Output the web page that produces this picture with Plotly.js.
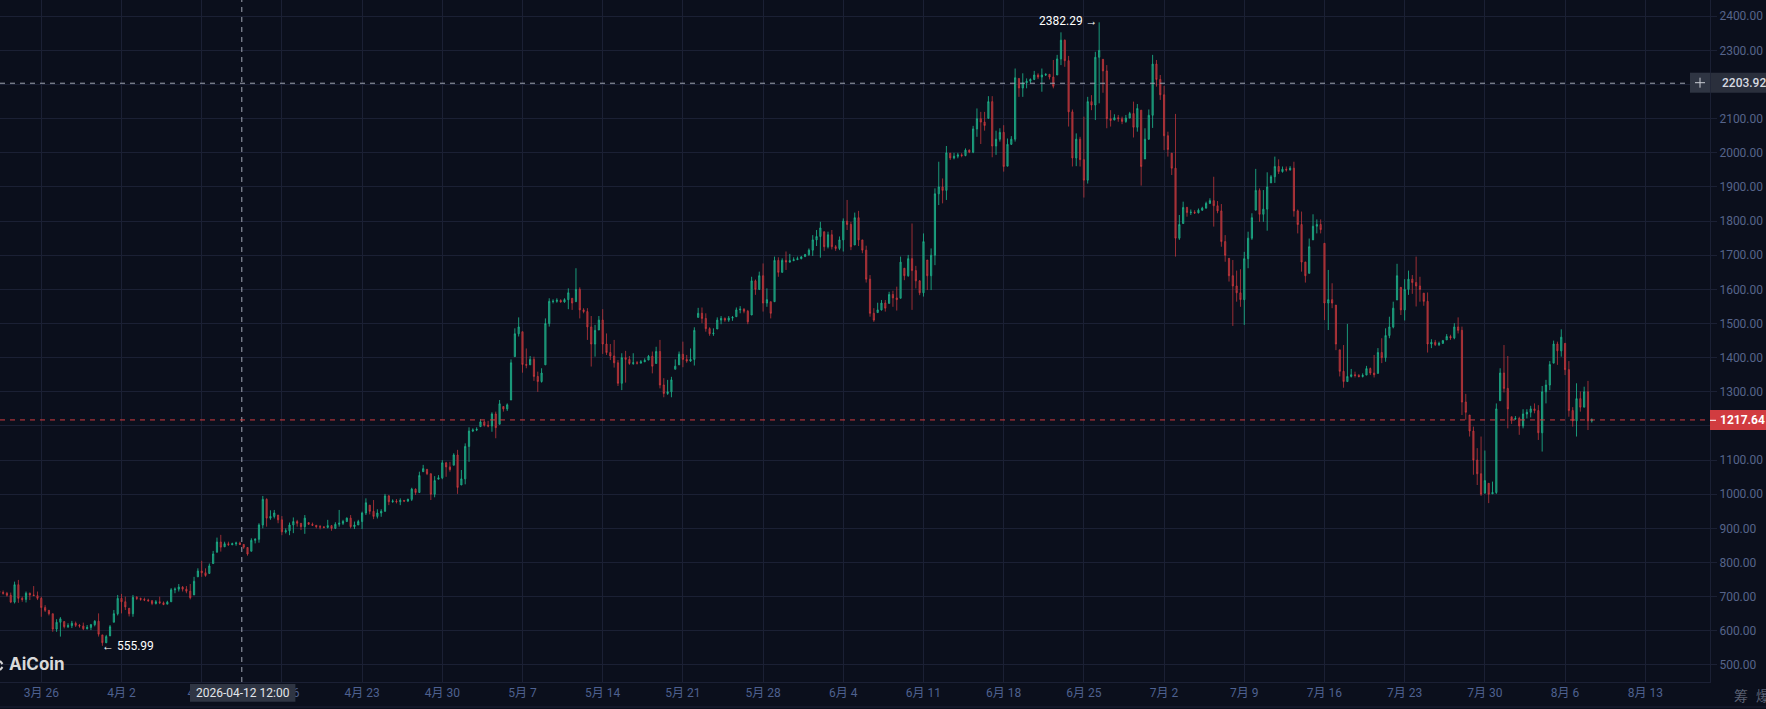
<!DOCTYPE html>
<html><head><meta charset="utf-8">
<script src="https://cdn.plot.ly/plotly-3.0.1.min.js"></script>
<style>html,body{margin:0;padding:0;background:#0b0f1c;overflow:hidden}#c{width:1766px;height:709px}</style>
</head><body><div id="c"></div>
<script>
const firstCandle = '2026-03-22T08:00:00Z';
const candleHours = 8;
const firstOpen = 716;
const closes = [712,710,704,684,735,695,692,710,705,703,
695,668,660,650,605,625,635,612,615,622,
616,614,606,610,618,628,590,565,583,612,
650,695,685,670,650,698,695,692,690,688,
680,685,682,677,684,720,722,728,722,716,
697,745,775,770,762,790,825,860,845,855,
852,855,857,853,845,825,865,868,910,985,
930,935,945,925,890,893,910,920,915,905,
930,912,909,905,904,903,908,900,912,915,
920,930,905,910,920,945,975,950,935,945,
950,995,978,980,978,982,980,985,1015,1005,
1055,1075,1060,1000,1040,1048,1092,1080,1072,1115,
1020,1045,1140,1185,1188,1190,1212,1202,1200,1235,
1195,1265,1250,1262,1385,1470,1490,1380,1378,1395,
1345,1330,1355,1500,1565,1565,1568,1563,1570,1590,
1560,1600,1540,1535,1490,1440,1480,1510,1440,1415,
1405,1385,1325,1400,1395,1383,1385,1384,1388,1392,
1404,1375,1418,1320,1295,1300,1335,1375,1410,1395,
1390,1395,1480,1530,1515,1485,1470,1472,1510,1515,
1510,1516,1518,1540,1542,1536,1505,1625,1600,1640,
1560,1570,1530,1685,1650,1685,1680,1684,1687,1690,
1695,1702,1715,1745,1755,1780,1725,1760,1725,1720,
1745,1800,1790,1725,1810,1745,1715,1630,1530,1510,
1540,1560,1545,1585,1575,1570,1680,1640,1690,1655,
1625,1590,1740,1640,1700,1880,1900,1890,2000,1985,
1990,1994,1992,2008,2002,2070,2100,2090,2080,2150,
2020,2040,2060,1960,2025,2040,2220,2190,2205,2210,
2215,2228,2222,2228,2230,2222,2195,2275,2330,2270,
2120,1985,2040,1980,1920,2150,2140,2280,2300,2240,
2100,2095,2103,2100,2092,2102,2115,2075,2130,1960,
2040,2110,2260,2215,2170,2050,2010,1955,1750,1790,
1840,1825,1826,1824,1832,1838,1852,1860,1845,1830,
1740,1700,1640,1610,1590,1570,1690,1750,1810,1890,
1820,1835,1900,1930,1960,1945,1952,1950,1955,1830,
1790,1680,1640,1725,1785,1790,1775,1560,1570,1560,
1440,1360,1330,1345,1350,1348,1345,1348,1368,1355,
1350,1415,1400,1465,1490,1545,1640,1540,1600,1630,
1620,1610,1600,1565,1440,1445,1438,1442,1450,1462,
1458,1490,1480,1270,1240,1185,1100,1060,1000,1040,
1000,1005,1250,1355,1310,1250,1220,1222,1200,1235,
1240,1250,1245,1180,1300,1320,1380,1440,1420,1460,
1365,1245,1215,1280,1255,1300,1215,1217.64];
const highs = [720,718,714,712,744,749,700,715,712,731,
715,700,675,660,650,634,640,627,622,629,
627,620,624,617,620,631,651,588,588,617,
661,705,708,700,666,705,702,697,697,694,
690,690,700,686,688,725,727,737,731,731,
737,758,783,805,783,797,834,873,881,861,
861,858,861,861,853,844,871,871,915,995,
988,953,954,939,936,900,917,932,925,915,
939,917,917,910,910,907,925,910,918,954,
925,932,939,920,925,949,988,968,983,956,
956,1001,998,985,986,988,982,987,1019,1017,
1066,1086,1073,1061,1053,1056,1100,1095,1095,1120,
1130,1071,1149,1196,1193,1196,1220,1216,1215,1240,
1242,1276,1257,1266,1395,1486,1518,1476,1427,1405,
1403,1359,1369,1515,1574,1571,1574,1571,1574,1603,
1574,1662,1606,1545,1545,1522,1496,1522,1542,1471,
1440,1452,1393,1413,1420,1405,1413,1390,1393,1398,
1408,1418,1432,1452,1340,1335,1344,1395,1418,1447,
1408,1427,1489,1546,1547,1530,1489,1486,1518,1522,
1518,1522,1522,1547,1551,1545,1540,1637,1629,1652,
1676,1603,1564,1696,1694,1691,1711,1704,1694,1696,
1698,1704,1720,1759,1774,1798,1769,1769,1774,1730,
1755,1808,1862,1798,1825,1830,1745,1728,1642,1545,
1561,1569,1569,1593,1596,1608,1696,1662,1701,1793,
1669,1627,1764,1686,1720,1896,1974,1925,2020,1999,
2000,2000,1999,2013,2010,2079,2130,2120,2120,2166,
2166,2065,2072,2081,2042,2049,2247,2218,2233,2218,
2218,2240,2233,2247,2233,2231,2272,2287,2353,2332,
2284,2127,2057,2047,2106,2164,2169,2296,2382.29,2274,
2257,2125,2113,2111,2106,2111,2120,2150,2143,2125,
2072,2127,2287,2272,2228,2196,2062,1999,2114,1818,
1857,1842,1834,1832,1837,1842,1857,1867,1930,1859,
1850,1759,1691,1686,1655,1659,1710,1769,1823,1953,
1896,1891,1943,1935,1989,1981,1960,1960,1961,1974,
1834,1828,1681,1749,1820,1805,1805,1735,1657,1618,
1554,1423,1437,1499,1367,1359,1352,1354,1376,1371,
1408,1428,1457,1486,1520,1564,1675,1606,1630,1655,
1642,1696,1637,1589,1591,1454,1452,1447,1452,1469,
1467,1501,1518,1491,1294,1232,1198,1135,1169,1128,
1032,1037,1266,1369,1437,1405,1227,1229,1227,1249,
1249,1259,1266,1261,1317,1335,1390,1450,1447,1483,
1442,1390,1255,1325,1301,1315,1332,1222];
const lows = [706,706,700,681,680,682,685,683,690,703,
690,641,655,645,597,597,583,607,608,608,
611,609,602,604,602,613,583,555.99,564,585,
625,645,651,661,642,641,690,688,687,685,
675,677,678,675,678,685,710,715,715,710,
692,705,758,758,758,768,797,830,832,846,
849,851,849,851,840,820,833,856,858,900,
905,925,929,915,880,885,880,886,905,895,
884,910,907,900,897,900,900,893,898,905,
910,920,900,898,910,898,939,941,927,929,
934,949,968,975,973,968,977,977,980,998,
1005,1066,1056,983,991,1044,1044,1051,1066,1085,
1001,1027,1029,1095,1182,1185,1198,1198,1196,1183,
1164,1205,1242,1244,1276,1403,1462,1356,1369,1379,
1332,1300,1327,1379,1491,1559,1561,1561,1561,1542,
1540,1564,1515,1530,1452,1374,1403,1481,1411,1408,
1393,1371,1317,1305,1327,1379,1379,1380,1383,1387,
1393,1354,1383,1310,1284,1291,1284,1366,1379,1372,
1385,1388,1377,1518,1501,1476,1464,1464,1484,1498,
1505,1505,1508,1520,1530,1530,1498,1525,1584,1598,
1535,1549,1515,1564,1637,1649,1657,1678,1683,1686,
1688,1696,1698,1698,1727,1693,1713,1720,1717,1713,
1715,1711,1774,1715,1730,1727,1706,1620,1520,1505,
1532,1538,1535,1559,1549,1538,1574,1627,1637,1540,
1603,1583,1579,1598,1598,1671,1847,1852,1862,1979,
1981,1984,1987,1990,1999,1999,2047,2026,2065,2101,
1987,1994,2033,1945,1961,2023,2033,2164,2164,2189,
2203,2213,2216,2179,2225,2215,2189,2228,2257,2252,
2077,1960,1961,1960,1869,1910,2125,2096,2145,2176,
2072,2077,2096,2091,2084,2088,2101,2045,2062,1904,
1982,2038,2073,2194,2155,2008,1989,1935,1696,1745,
1793,1813,1818,1821,1823,1830,1837,1850,1784,1823,
1725,1681,1623,1493,1564,1549,1496,1662,1745,1832,
1798,1798,1772,1912,1912,1938,1942,1945,1948,1813,
1764,1652,1620,1647,1745,1764,1764,1510,1481,1545,
1422,1345,1312,1330,1342,1342,1342,1342,1349,1349,
1342,1354,1384,1388,1457,1486,1569,1525,1509,1584,
1587,1550,1564,1552,1415,1428,1434,1434,1440,1452,
1452,1454,1471,1232,1218,1169,1057,1027,995,1003,
974,1001,1001,1274,1298,1193,1206,1218,1174,1193,
1222,1225,1237,1159,1125,1266,1305,1384,1379,1403,
1349,1227,1198,1169,1242,1255,1188,1210];
const tickDates = ['2026-03-26','2026-04-02','2026-04-09','2026-04-16','2026-04-23','2026-04-30','2026-05-07','2026-05-14','2026-05-21','2026-05-28','2026-06-04','2026-06-11','2026-06-18','2026-06-25','2026-07-02','2026-07-09','2026-07-16','2026-07-23','2026-07-30','2026-08-06','2026-08-13'];
const tickLabels = ['3月 26','4月 2','4月 9','4月 16','4月 23','4月 30','5月 7','5月 14','5月 21','5月 28','6月 4','6月 11','6月 18','6月 25','7月 2','7月 9','7月 16','7月 23','7月 30','8月 6','8月 13'];
const priceTicks = [500,600,700,800,900,1000,1100,1200,1300,1400,1500,1600,1700,1800,1900,2000,2100,2200,2300,2400];
const highLabel = '2382.29 →', lowLabel = '← 555.99';
const crosshairPrice = 2203.92, lastPrice = 1217.64, crosshairTime = '2026-04-12 12:00';

const W = 1766, H = 709, plotW = 1710, plotH = 682;
const BG = '#0b0f1c', GRID = '#1b2034';
const px = v => v / plotW, py = v => 1 - v / plotH;
const t0 = Date.parse(firstCandle);
const fmt = ms => new Date(ms).toISOString().slice(0, 19).replace('T', ' ');
const times = closes.map((_, i) => fmt(t0 + i * candleHours * 3600e3));
const opens = closes.map((_, i) => {
  const prev = i ? closes[i - 1] : firstOpen;
  return Math.min(highs[i], Math.max(lows[i], prev));
});

const trace = {
  type: 'candlestick', x: times, open: opens, high: highs, low: lows, close: closes,
  increasing: {line: {color: 'rgba(28,178,138,0.85)', width: 1}, fillcolor: '#1c6b5d'},
  decreasing: {line: {color: 'rgba(214,58,62,0.7)', width: 1}, fillcolor: '#7a2b32'},
  whiskerwidth: 0, hoverinfo: 'skip', showlegend: false
};
const rect = (x0, y0, x1, y1, fill) => ({type: 'rect', xref: 'paper', yref: 'paper', x0: px(x0), x1: px(x1), y0: py(y0), y1: py(y1), fillcolor: fill, line: {width: 0}, layer: 'above'});
const seg = (x0, y0, x1, y1, color, w) => ({type: 'line', xref: 'paper', yref: 'paper', x0: px(x0), x1: px(x1), y0: py(y0), y1: py(y1), line: {color, width: w || 1}, layer: 'above'});
const text = (x, y, t, color, size, extra) => Object.assign({xref: 'paper', yref: 'paper', x: px(x), y: py(y), text: t, showarrow: false, xanchor: 'left', yanchor: 'middle', borderpad: 0, font: {family: 'Roboto, sans-serif', size, color}}, extra || {});

const shapes = [
  {type: 'line', xref: 'x', yref: 'paper', x0: crosshairTime, x1: crosshairTime, y0: 0, y1: 1, line: {color: '#a0a5b2', width: 1, dash: '5px,5px'}},
  {type: 'line', xref: 'paper', yref: 'y', x0: 0, x1: px(1690), y0: crosshairPrice, y1: crosshairPrice, line: {color: '#a0a5b2', width: 1, dash: '5px,5px'}},
  {type: 'line', xref: 'paper', yref: 'y', x0: 0, x1: 1, y0: lastPrice, y1: lastPrice, line: {color: '#d13c40', width: 1, dash: '5px,5px'}},
  seg(0, 707, W, 707, GRID),
  rect(1690, 72.7, 1710, 92.7, '#2f3543'),
  rect(1710.5, 72.7, W, 92.7, '#2a2f3c'),
  seg(1695, 82.7, 1705, 82.7, '#c9ccd4'), seg(1700, 77.7, 1700, 87.7, '#c9ccd4'),
  rect(1710, 410, W, 430, '#d13c40'),
  seg(1710, 420.3, 1716, 420.3, '#ffffff'),
  rect(190, 684, 295.4, 701.7, '#2f3543'),
  seg(0, 661, 2.5, 664, '#d8d8d8', 2), seg(0, 670, 2.5, 667, '#d8d8d8', 2)
];
const annotations = [
  {xref: 'x', yref: 'y', x: times[288], y: 2382.29, text: highLabel, showarrow: false, xanchor: 'right', yanchor: 'middle', xshift: 1, yshift: 1, font: {family: 'Roboto, sans-serif', size: 12, color: '#ffffff'}},
  {xref: 'x', yref: 'y', x: times[27], y: 555.99, text: lowLabel, showarrow: false, xanchor: 'left', yanchor: 'middle', xshift: -2, yshift: 0, font: {family: 'Roboto, sans-serif', size: 12, color: '#ffffff'}},
  text(1721, 82.5, '2203.92', '#d6d9e0', 12, {font: {family: 'Roboto, sans-serif', size: 12, color: '#d6d9e0', weight: 500}}),
  text(1719, 420, '<b>1217.64</b>', '#ffffff', 12),
  text(242.7, 692.7, crosshairTime, '#e2e5ea', 12, {xanchor: 'center'}),
  text(1741, 695, '筹', '#5a6072', 14, {xanchor: 'center', font: {family: '"Noto Sans CJK SC"', size: 14, color: '#5a6072'}}),
  text(1763, 695, '爆', '#5a6072', 14, {xanchor: 'center', font: {family: '"Noto Sans CJK SC"', size: 14, color: '#5a6072'}}),
  text(8, 663.5, '<b>AiCoin</b>', '#d9d9d9', 17, {font: {family: 'Inter, Roboto, sans-serif', size: 17, color: '#d9d9d9'}})
];
const layout = {
  width: W, height: H, paper_bgcolor: BG, plot_bgcolor: BG,
  margin: {l: 0, r: W - plotW, t: 0, b: H - plotH, pad: 0},
  boxgap: 0.55, showlegend: false, dragmode: false,
  xaxis: {type: 'date', range: ['2026-03-22 09:29', '2026-08-18 15:36'], tickmode: 'array', tickvals: tickDates, ticktext: tickLabels,
    rangeslider: {visible: false}, showgrid: true, gridcolor: GRID, gridwidth: 1, zeroline: false, showline: true, linecolor: GRID, linewidth: 1,
    ticks: '', tickangle: 0, tickfont: {family: 'Roboto, "Noto Sans CJK SC", sans-serif', size: 12, color: '#4e6190'}},
  yaxis: {side: 'right', range: [450, 2447.7], tickmode: 'array', tickvals: priceTicks, tickformat: '.2f',
    showgrid: true, gridcolor: GRID, gridwidth: 1, zeroline: false, showline: true, linecolor: GRID, linewidth: 1,
    ticks: 'outside', ticklen: 6, tickcolor: GRID, tickfont: {family: 'Roboto, sans-serif', size: 12, color: '#56648a'}},
  shapes, annotations
};
Plotly.newPlot('c', [trace], layout, {displayModeBar: false, staticPlot: true, responsive: false});
</script></body></html>
